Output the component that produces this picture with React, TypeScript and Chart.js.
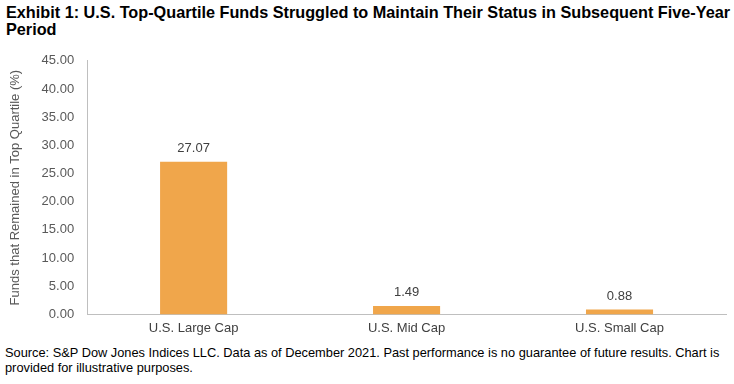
import React, { useEffect, useRef } from "react";
import { Chart, registerables } from "chart.js";

Chart.register(...registerables);

const categories = ["U.S. Large Cap", "U.S. Mid Cap", "U.S. Small Cap"];
const values = [27.07, 1.49, 0.88];
const titleLines = [
  "Exhibit 1: U.S. Top-Quartile Funds Struggled to Maintain Their Status in Subsequent Five-Year",
  "Period",
];
const yAxisTitle = "Funds that Remained in Top Quartile (%)";
const footerLines = [
  "Source: S&P Dow Jones Indices LLC. Data as of December 2021. Past performance is no guarantee of future results. Chart is",
  "provided for illustrative purposes.",
];

const sans = '"Liberation Sans", Arial, sans-serif';

const valueLabels = {
  id: "valueLabels",
  afterDatasetsDraw(chart: any) {
    const ctx = chart.ctx;
    const meta = chart.getDatasetMeta(0);
    ctx.save();
    ctx.font = "13px " + sans;
    ctx.fillStyle = "#404040";
    ctx.textAlign = "center";
    ctx.textBaseline = "bottom";
    meta.data.forEach((bar: any, i: number) => {
      ctx.fillText(values[i].toFixed(2), bar.x, bar.y - 7);
    });
    ctx.restore();
  },
};

const lineStyle = (scale: number): React.CSSProperties => ({
  whiteSpace: "nowrap",
  transform: `scaleX(${scale})`,
  transformOrigin: "0 0",
});

export default function App() {
  const ref = useRef<HTMLCanvasElement>(null);
  useEffect(() => {
    document.body.style.margin = "0";
    const chart = new Chart(ref.current!, {
      type: "bar",
      data: {
        labels: categories,
        datasets: [
          {
            data: values,
            backgroundColor: "#F0A64B",
            barPercentage: 1,
            categoryPercentage: 0.315,
          },
        ],
      },
      options: {
        animation: false,
        responsive: false,
        maintainAspectRatio: false,
        layout: { padding: { top: 4, right: 8, bottom: 0, left: 8 } },
        plugins: { legend: { display: false }, tooltip: { enabled: false }, title: { display: false } },
        scales: {
          x: {
            grid: { display: false, drawTicks: false },
            border: { color: "#BFBFBF", width: 1 },
            ticks: { color: "#404040", font: { size: 13, family: sans }, padding: 6 },
          },
          y: {
            min: 0,
            max: 45,
            grid: { display: false, drawTicks: false },
            border: { color: "#BFBFBF", width: 1 },
            ticks: {
              stepSize: 5,
              color: "#595959",
              font: { size: 13, family: sans },
              padding: 13,
              callback: (v: any) => Number(v).toFixed(2),
            },
            title: {
              display: true,
              text: yAxisTitle,
              color: "#595959",
              font: { size: 13, family: sans },
              padding: { top: 0, bottom: 5 },
            },
          },
        },
      },
      plugins: [valueLabels],
    });
    return () => chart.destroy();
  }, []);
  return (
    <div style={{ width: 734, height: 384, position: "relative", background: "#fff", overflow: "hidden" }}>
      <div
        style={{
          position: "absolute",
          left: 6,
          top: 4,
          fontFamily: sans,
          fontWeight: "bold",
          fontSize: 17,
          lineHeight: "17px",
          color: "#000",
        }}
      >
        {titleLines.map((t, i) => (
          <div key={i} style={lineStyle(0.955)}>
            {t}
          </div>
        ))}
      </div>
      <canvas ref={ref} width={734} height={302} style={{ position: "absolute", left: 0, top: 40 }} />
      <div
        style={{
          position: "absolute",
          left: 5,
          top: 345,
          fontFamily: sans,
          fontSize: 13,
          lineHeight: "15px",
          color: "#000",
        }}
      >
        {footerLines.map((t, i) => (
          <div key={i} style={lineStyle(0.985)}>
            {t}
          </div>
        ))}
      </div>
    </div>
  );
}
